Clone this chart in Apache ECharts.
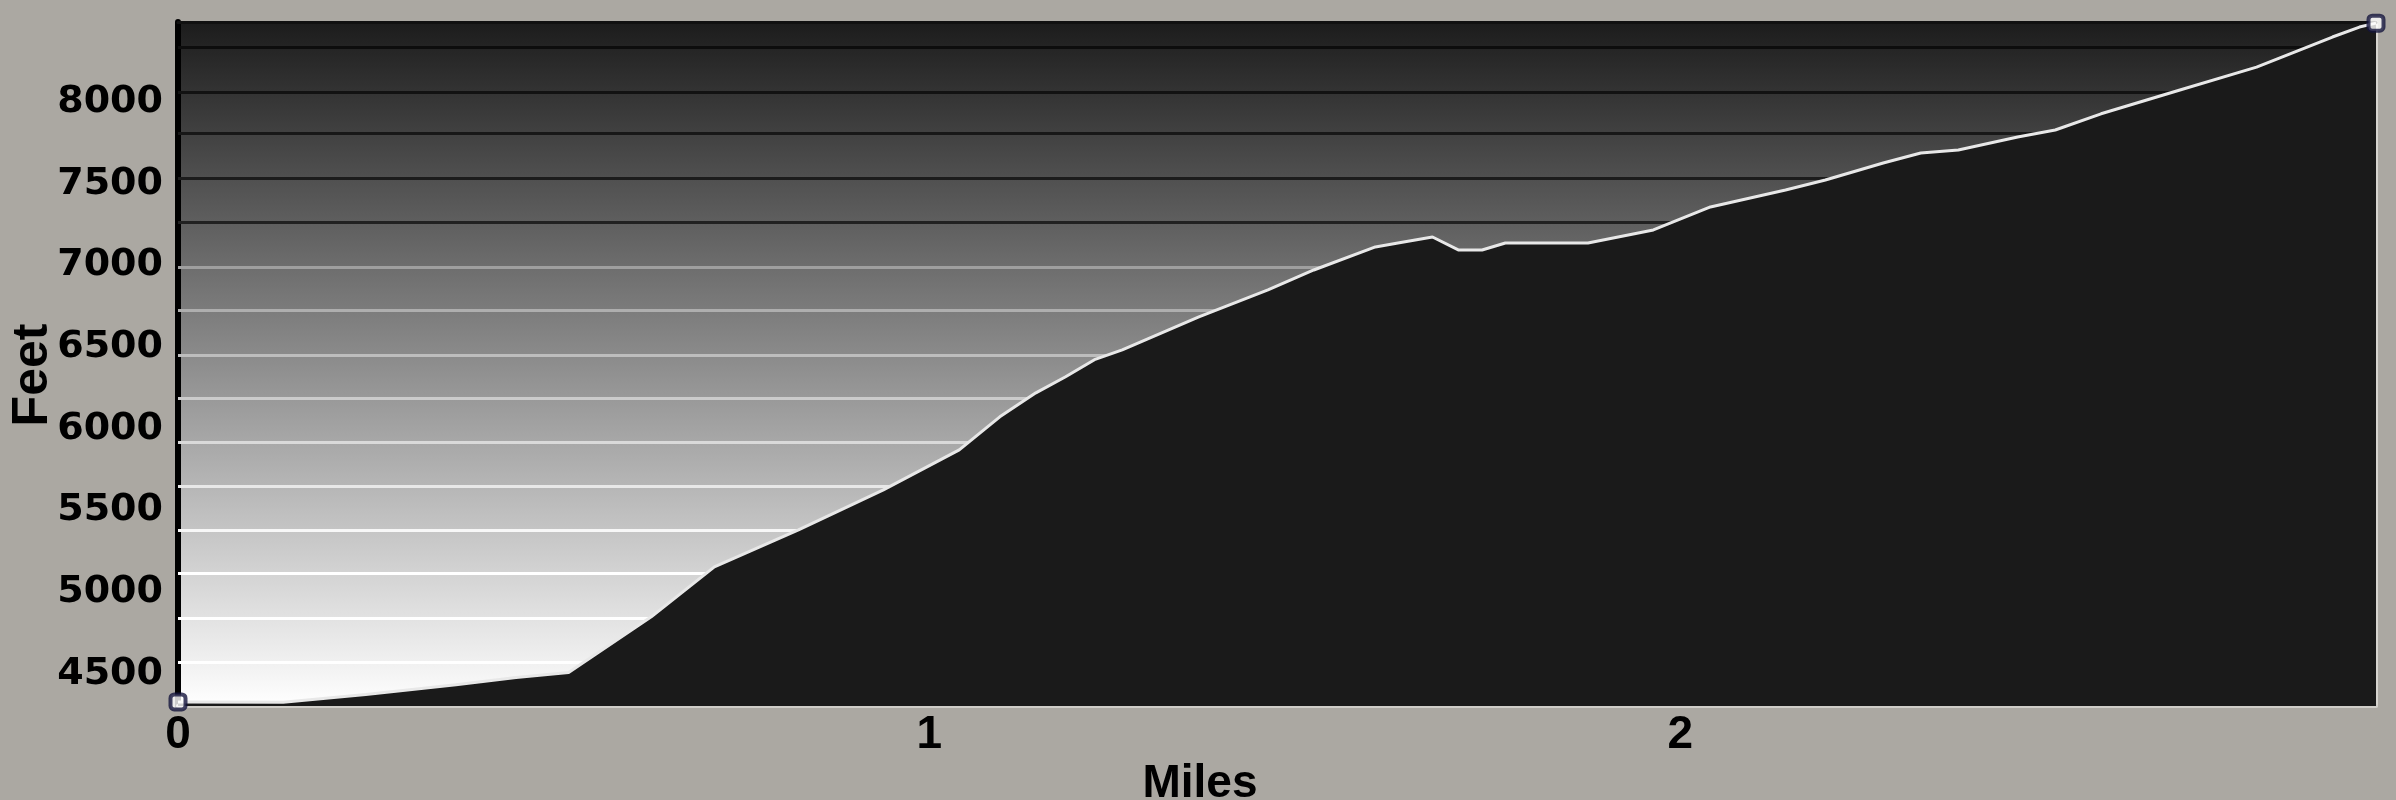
<!DOCTYPE html>
<html>
<head>
<meta charset="utf-8">
<script src="https://cdn.jsdelivr.net/npm/echarts@6/dist/echarts.min.js"></script>
<style>
html,body{margin:0;padding:0;background:#aba8a2;}
#chart{width:2396px;height:800px;}
</style>
</head>
<body>
<div id="chart"></div>
<script>
// ---- data ----
const miles = [0, 0.14, 0.25, 0.37, 0.45, 0.52, 0.63, 0.714, 0.826, 0.939, 1.04, 1.094, 1.142, 1.181, 1.22, 1.257, 1.359, 1.451, 1.512, 1.594, 1.624, 1.67, 1.705, 1.736, 1.767, 1.877, 1.964, 2.04, 2.14, 2.193, 2.27, 2.32, 2.37, 2.449, 2.499, 2.56, 2.665, 2.767, 2.868, 2.904, 2.926];
const feet  = [4285, 4283, 4330, 4390, 4435, 4465, 4806, 5112, 5338, 5583, 5828, 6030, 6177, 6274, 6380, 6440, 6642, 6807, 6929, 7070, 7094, 7131, 7051, 7051, 7094, 7094, 7174, 7315, 7419, 7480, 7584, 7645, 7663, 7743, 7786, 7885, 8031, 8171, 8355, 8416, 8440];
const yTickFeet = [4500, 5000, 5500, 6000, 6500, 7000, 7500, 8000];
const xTickMiles = [0, 1, 2];
const bandFeet = [8294, 8020, 7765, 7490, 7224, 6948, 6683, 6408, 6145, 5876, 5607, 5338, 5073, 4797, 4530];
const yMin = 4260, yMax = 8447;
const xMin = 0, xMax = 2.926;

// ---- build ----
const profile = miles.map((m, i) => [m, feet[i]]);
const endpoints = [profile[0], profile[profile.length - 1]];

function grayHex(v) {
  v = Math.max(0, Math.min(255, Math.round(v)));
  const h = v.toString(16).padStart(2, '0');
  return '#' + h + h + h;
}
const bandLines = bandFeet.map(f => {
  const t = (yMax - f) / (yMax - yMin);
  const bg = 28 + 227 * t;
  const c = t < 0.32 ? bg * 0.35 : bg + 50;
  return { yAxis: f, lineStyle: { color: grayHex(c), width: 3, type: 'solid' } };
});

const chart = echarts.init(document.getElementById('chart'), null, { renderer: 'canvas' });
chart.setOption({
  animation: false,
  backgroundColor: '#aba8a2',
  grid: {
    left: 178, right: 20, top: 22, bottom: 94,
    outerBoundsMode: 'none', containLabel: false,
    show: true, borderWidth: 0,
    backgroundColor: new echarts.graphic.LinearGradient(0, 0, 0, 1, [
      { offset: 0, color: '#1c1c1c' },
      { offset: 1, color: '#ffffff' }
    ])
  },
  xAxis: [{
    type: 'value', min: xMin, max: xMax, position: 'bottom',
    name: 'Miles', nameLocation: 'middle', nameGap: 55, nameMoveOverlap: false,
    nameTextStyle: { fontFamily: 'Liberation Sans', fontWeight: 'bold', fontSize: 46, color: '#000', padding: [0, 154, 0, 0] },
    axisLine: { show: true, onZero: false, lineStyle: { color: '#cfcdc8', width: 4 } },
    axisTick: { show: false },
    splitLine: { show: false },
    axisLabel: {
      customValues: xTickMiles, margin: 6,
      fontFamily: 'Liberation Sans', fontWeight: 'bold', fontSize: 46, color: '#000',
      formatter: v => String(v)
    }
  }, {
    type: 'value', min: xMin, max: xMax, position: 'top',
    axisLine: { show: true, onZero: false, lineStyle: { color: '#111111', width: 3 } },
    axisTick: { show: false }, axisLabel: { show: false }, splitLine: { show: false }
  }],
  yAxis: [{
    type: 'value', min: yMin, max: yMax, position: 'left',
    name: 'Feet', nameLocation: 'middle', nameGap: 120, nameRotate: 90, nameMoveOverlap: false,
    nameTextStyle: { fontFamily: 'Liberation Sans', fontWeight: 'bold', fontSize: 50, color: '#000', padding: [0, 22, 0, 0] },
    axisLine: { show: true, onZero: false, lineStyle: { color: '#000', width: 6 } },
    axisTick: { show: false },
    splitLine: { show: false },
    axisLabel: {
      customValues: yTickFeet, margin: 15,
      formatter: v => '{n|' + v + '}',
      rich: {
        n: { fontFamily: 'DejaVu Sans', fontWeight: 'bold', fontSize: 38, color: '#000', padding: [14, 0, 0, 0] }
      }
    }
  }, {
    type: 'value', min: yMin, max: yMax, position: 'right',
    axisLine: { show: true, onZero: false, lineStyle: { color: '#d6d4cf', width: 3 } },
    axisTick: { show: false }, axisLabel: { show: false }, splitLine: { show: false }
  }],
  series: [{
    type: 'line', data: [], z: 1, silent: true,
    markLine: { silent: true, symbol: 'none', label: { show: false }, animation: false, data: bandLines }
  }, {
    type: 'line', data: profile, z: 5, showSymbol: false, silent: true,
    lineStyle: { color: '#e8e8e8', width: 3 },
    areaStyle: { color: '#1a1a1a', opacity: 1 }
  }, {
    type: 'scatter', data: endpoints, z: 8, clip: false, silent: true,
    symbol: 'roundRect', symbolSize: 15,
    itemStyle: { color: '#ffffff', borderColor: '#14143c', borderWidth: 4 }
  }]
});
</script>
</body>
</html>
